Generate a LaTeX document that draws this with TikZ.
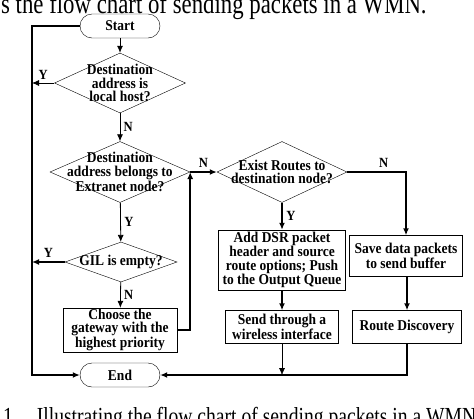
\documentclass[tikz,border=0pt]{standalone}
\usepackage{fontspec}
\setmainfont{Liberation Serif}
\newfontfamily\chartfont{Liberation Serif}[FakeStretch=0.9]
\newfontfamily\capfont{Liberation Serif}[FakeStretch=0.8]
\usetikzlibrary{arrows.meta,shapes.geometric}

\begin{document}
\begin{tikzpicture}[x=1pt, y=-1pt, -{Latex[length=7pt,width=6pt]},
        every node/.append style={font=\chartfont\bfseries\fontsize{15}{13.5}\selectfont}]
      \tikzstyle{term} = [draw, thin, -, rounded corners=12pt, minimum width=80pt, minimum height=24pt]
      \tikzstyle{decision} = [draw, thin, -, diamond, inner sep=0pt]
      \tikzstyle{box} = [draw, thin, -, align=center, inner sep=1pt]
      \tikzstyle{flow} = [line width=2pt]
      \tikzstyle{tag} = [font=\chartfont\bfseries\fontsize{14}{14}\selectfont]
      \useasboundingbox (0,0) rectangle (474,418);
      \clip (0,0) rectangle (474,418);
      % caption fragments
      \node (top) [anchor=base west, font=\capfont\fontsize{28.5}{29}\selectfont, inner sep=0pt] at (1,13.5)
        {s the flow chart of sending packets in a WMN.};
      \node (bottom) [anchor=base west, font=\capfont\fontsize{24.5}{25}\selectfont, inner sep=0pt] at (3,424)
        {1.\hspace{19pt}Illustrating the flow chart of sending packets in a WMN};
      % left column
      \node (start) [term] at (120,26) {Start};
      \node (d1) [decision, minimum width=131pt, minimum height=60pt,
        label={[align=center]center:Destination\\address is\\local host?}] at (120,83) {};
      \node (d2) [decision, minimum width=140pt, minimum height=61pt,
        label={[align=center]center:Destination\\address belongs to\\Extranet node?}] at (120,172) {};
      \node (gil) [decision, minimum width=112pt, minimum height=40pt,
        label={[align=center]center:GIL is empty?}] at (121,262) {};
      \node (choose) [box, minimum width=114pt, minimum height=39pt] at (120,330)
        {Choose the\\gateway with the\\highest priority};
      \node (end) [term] at (120,375) {End};
      % right columns
      \node (d3) [decision, minimum width=130pt, minimum height=61pt,
        label={[align=center]center:Exist Routes to\\destination node?}] at (282,172) {};
      \node (add) [box, minimum width=127pt, minimum height=60pt] at (282,260)
        {Add DSR packet\\header and source\\route options; Push\\to the Output Queue};
      \node (send) [box, minimum width=113pt, minimum height=33pt] at (282,327)
        {Send through a\\wireless interface};
      \node (save) [box, minimum width=113pt, minimum height=41pt] at (406,256)
        {Save data packets\\to send buffer};
      \node (route) [box, minimum width=109pt, minimum height=33pt] at (407,327)
        {Route Discovery};
      \coordinate (loop) at (32,375);
      % connectors
      \draw[flow] (start.west) -| (loop) -- (end.west);
      \draw[thick] (start) -- (d1);
      \draw[thick] (d1.west) -- node[tag, above] {Y} (d1.west -| loop);
      \draw[thick] (d1) -- node[tag, right] {N} (d2);
      \draw[flow] (d2.east) -- node[tag, above] {N} (d3.west);
      \draw[thick] (d2) -- node[tag, right] {Y} (gil);
      \draw[flow] (gil.west) -- node[tag, above] {Y} (gil.west -| loop);
      \draw[thick] (gil) -- node[tag, right] {N} (choose);
      \draw[flow] (choose.east) -| (d2.east);
      \draw[flow] (d3) -- node[tag, right] {Y} (add);
      \draw[flow] (d3.east) -| node[tag, pos=0.31, above] {N} (save.north);
      \draw[flow] (add) -- (send);
      \draw[flow] (save.south -| route) -- (route);
      \draw[flow] (route.south) |- (end.east);
      \draw[thin] (send.south) -- (send.south |- end);
    \end{tikzpicture}
\end{document}
